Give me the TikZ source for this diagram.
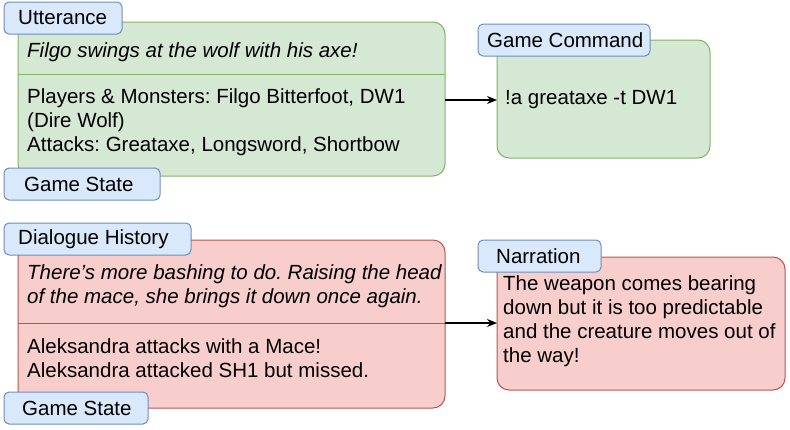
\documentclass[tikz,border=0pt]{standalone}
\usepackage{fontspec}
\setmainfont{Liberation Sans}
\usetikzlibrary{arrows.meta}
\definecolor{gfill}{HTML}{D5E8D4}\definecolor{gline}{HTML}{82B366}
\definecolor{rfill}{HTML}{F8CECC}\definecolor{rline}{HTML}{B85450}
\definecolor{bfill}{HTML}{DAE8FC}\definecolor{bline}{HTML}{6C8EBF}
\begin{document}
\frenchspacing
\begin{tikzpicture}[x=1pt,y=-1pt,
 box/.style={draw=#1line,fill=#1fill,rounded corners=12pt,line width=1pt},
 lab/.style={draw=bline,fill=bfill,rounded corners=5pt,line width=1pt},
 txt/.style={anchor=west,inner sep=0pt,font=\fontsize{20.5}{24}\selectfont},
 arr/.style={-{Stealth[length=10pt,width=8pt]},line width=1.4pt}]
\useasboundingbox (0,0) rectangle (790,429);
% green
\draw[box=g] (18,22) rectangle (445,176);
\draw[gline,line width=1pt] (18,74) -- (445,74);
\coordinate (g1) at (445,100);
\draw[box=g] (497,40) rectangle (710,158);
\coordinate (g2) at (497,100);
\draw[lab] (4,2) rectangle (122,34); \node[txt] (ut) at (18,18) {Utterance};
\draw[lab] (4,168) rectangle (160,200); \node[txt] (gs1) at (24,184) {Game State};
\draw[lab] (478,24) rectangle (650,56); \node[txt] (gc) at (487,40) {Game Command};
\node[txt] (t1) at (27,52) {\itshape Filgo swings at the wolf with his axe!};
\node[txt,align=left,anchor=north west] (t2) at (27,88) {Players \& Monsters: Filgo Bitterfoot, DW1\\(Dire Wolf)\\Attacks: Greataxe, Longsword, Shortbow};
\node[txt] (t3) at (505,100) {!a greataxe -t DW1};
\draw[arr] (g1) -- (g2);
% red
\draw[box=r] (18,240) rectangle (445,408);
\draw[rline,line width=1pt] (18,323) -- (445,323);
\coordinate (r1) at (445,323);
\draw[box=r] (497,257) rectangle (785,390);
\coordinate (r2) at (497,323);
\draw[lab] (4,223) rectangle (191,255); \node[txt] (dh) at (18,239) {Dialogue History};
\draw[lab] (4,392) rectangle (148,424); \node[txt] (gs2) at (22,408) {Game State};
\draw[lab] (478,240) rectangle (601,272); \node[txt] (na) at (496,256) {Narration};
\node[txt,align=left,anchor=north west] (t4) at (27,264) {\itshape There's more bashing to do. Raising the head\\\itshape of the mace, she brings it down once again.};
\node[txt,align=left,anchor=north west] (t5) at (27,338) {Aleksandra attacks with a Mace!\\Aleksandra attacked SH1 but missed.};
\node[txt,align=left,anchor=north west] (t6) at (503,275) {The weapon comes bearing\\down but it is too predictable\\and the creature moves out of\\the way!};
\draw[arr] (r1) -- (r2);
\end{tikzpicture}
\end{document}
